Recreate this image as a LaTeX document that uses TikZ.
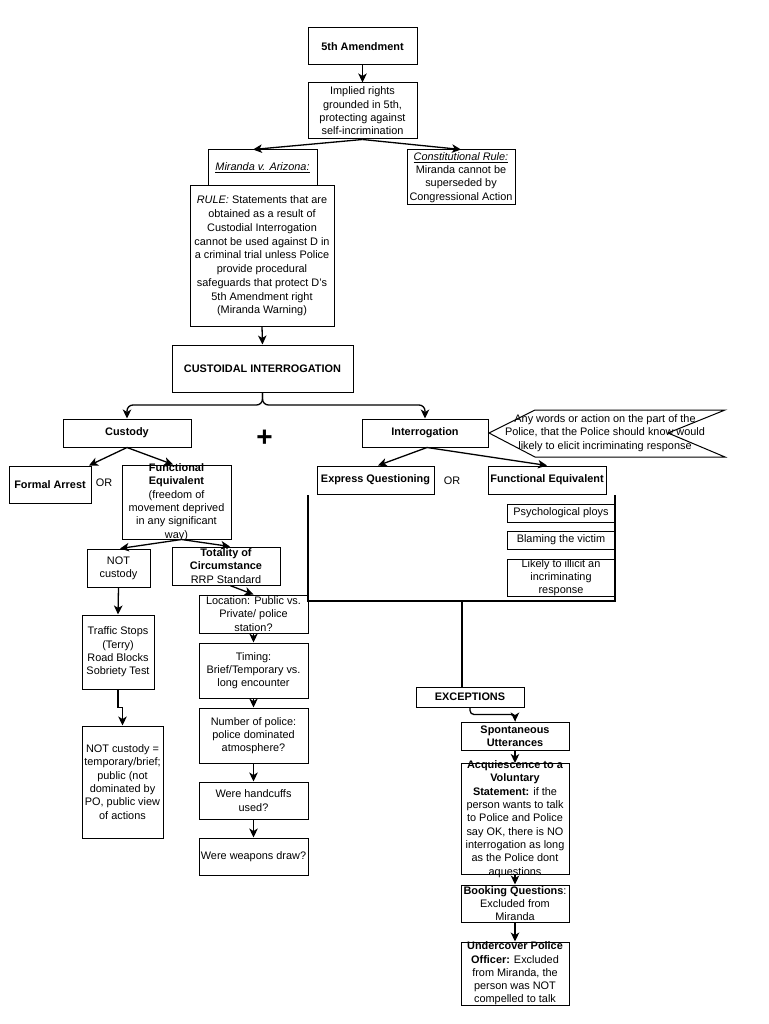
\documentclass[tikz,border=0pt]{standalone}
\usepackage{fontspec}
\setmainfont{Liberation Sans}
\usetikzlibrary{arrows.meta,calc}
\newcommand\myfs{\fontsize{10.9}{13.3}\selectfont}
\begin{document}
\begin{tikzpicture}[x=1pt,y=-1pt,
  bx/.style={draw, line width=1pt, fill=white, inner sep=0pt, minimum width=#1},
  lbl/.style={align=center, inner sep=0pt, font=\myfs},
  plain/.style={inner sep=0pt, font=\myfs},
  arr/.style={-{Stealth[length=9pt,width=8.5pt,inset=2.5pt]}, line width=1.3pt},
  thickln/.style={line width=2pt},
  every label/.style={lbl}]
\path[use as bounding box, fill=white] (0,0) rectangle (768,1024);

% top
\node[bx=109, minimum height=37, label={center:{\textbf{5th Amendment}}}] (amend) at (362.5,46.5) {};
\node[bx=109, minimum height=56, label={center:{Implied rights\\grounded in 5th,\\protecting against\\self-incrimination}}] (implied) at (362.5,111) {};
\node[bx=109, minimum height=36, label={center:{\underline{\textit{Miranda v. Arizona:}}}}] (miranda) at (262.5,168) {};
\node[bx=144, minimum height=140, label={[font=\fontsize{10.9}{13.75}\selectfont]center:{\textit{RULE:} Statements that are\\obtained as a result of\\Custodial Interrogation\\cannot be used against D in\\a criminal trial unless Police\\provide procedural\\safeguards that protect D's\\5th Amendment right\\(Miranda Warning)}}] (rule) at (262,256) {};
\node[bx=108, minimum height=55, label={center:{\underline{\textit{Constitutional Rule:}}\\Miranda cannot be\\superseded by\\Congressional Action}}] (const) at (461,177.5) {};
\node[bx=181, minimum height=47, label={center:{\textbf{CUSTOIDAL INTERROGATION}}}] (ci) at (262.5,368.5) {};

% custody / interrogation
\node[bx=128, minimum height=28, label={center:{\textbf{Custody}}}] (custody) at (127,433) {};
\node[inner sep=0pt, font=\fontsize{28}{28}\selectfont\bfseries] (plus) at (264.5,438) {+};
\node[bx=126, minimum height=28, label={center:{\textbf{Interrogation}}}] (interr) at (425,433) {};
\draw[line width=1pt] (489,433) -- (535,410) -- (725,410) -- (668,433) -- (725,457) -- (535,457) -- cycle;
\node[lbl] (defn) at (605,433) {Any words or action on the part of the\\Police, that the Police should know would\\likely to elicit incriminating response};

% custody side
\node[bx=82, minimum height=37, label={center:{\textbf{Formal Arrest}}}] (formal) at (50,484.5) {};
\node[plain] (or1) at (104,483) {OR};
\node[bx=109, minimum height=74, label={center:{\textbf{Functional}\\\textbf{Equivalent}\\(freedom of\\movement deprived\\in any significant\\way)}}] (fe1) at (176.5,502) {};
\node[bx=63, minimum height=38, label={center:{NOT\\custody}}] (notc) at (118.5,568) {};
\node[bx=108, minimum height=38, label={center:{\textbf{Totality of}\\\textbf{Circumstance}\\RRP Standard}}] (total) at (226,566) {};
\node[bx=109, minimum height=38, label={center:{Location: Public vs.\\Private/ police\\station?}}] (loc) at (253.5,614) {};
\node[bx=109, minimum height=55, label={center:{Timing:\\Brief/Temporary vs.\\long encounter}}] (timing) at (253.5,670.5) {};
\node[bx=109, minimum height=55, label={center:{Number of police:\\police dominated\\atmosphere?}}] (number) at (253.5,735.5) {};
\node[bx=109, minimum height=37, label={center:{Were handcuffs\\used?}}] (hand) at (253.5,800.5) {};
\node[bx=109, minimum height=37, label={center:{Were weapons draw?}}] (weap) at (253.5,856.5) {};
\node[bx=72, minimum height=74, label={center:{Traffic Stops\\(Terry)\\Road Blocks\\Sobriety Test}}] (traffic) at (118,652) {};
\node[bx=81, minimum height=112, label={center:{NOT custody =\\temporary/brief;\\public (not\\dominated by\\PO, public view\\of actions}}] (notc2) at (122.5,782) {};

% interrogation side
\node[bx=117, minimum height=28, label={center:{\textbf{Express Questioning}}}] (express) at (375.5,480) {};
\node[plain] (or2) at (452,481) {OR};
\node[bx=118, minimum height=28, label={center:{\textbf{Functional Equivalent}}}] (fe2) at (547,480) {};
\node[bx=108, minimum height=18, label={center:{Psychological ploys}}] (psy) at (561,513) {};
\node[bx=108, minimum height=18, label={center:{Blaming the victim}}] (blame) at (561,540) {};
\node[bx=108, minimum height=37, label={center:{Likely to illicit an\\incriminating\\response}}] (likely) at (561,577.5) {};

% exceptions
\node[bx=108, minimum height=20, label={center:{\textbf{EXCEPTIONS}}}] (exc) at (470,697) {};
\node[bx=108, minimum height=28, label={center:{\textbf{Spontaneous}\\\textbf{Utterances}}}] (spont) at (515,736) {};
\node[bx=108, minimum height=111, label={center:{\textbf{Acquiescence to a}\\\textbf{Voluntary}\\\textbf{Statement:} if the\\person wants to talk\\to Police and Police\\say OK, there is NO\\interrogation as long\\as the Police dont\\aquestions}}] (acq) at (515,819) {};
\node[bx=108, minimum height=37, label={center:{\textbf{Booking Questions}:\\Excluded from\\Miranda}}] (book) at (515,903.5) {};
\node[bx=108, minimum height=63, label={center:{\textbf{Undercover Police}\\\textbf{Officer:} Excluded\\from Miranda, the\\person was NOT\\compelled to talk}}] (under) at (515,973.5) {};

% bracket lines
\coordinate (bl) at (308,495);
\coordinate (br) at (615,495);
\coordinate (bm) at (462,601);
\draw[thickln] (bl) |- (br |- bm) -- (br);
\draw[thickln] (bm) -- (bm |- exc.north);

% connectors
\draw[arr] (amend.south) -- (implied.north);
\draw[arr] (implied.south) -- ([xshift=-9.5]miranda.north);
\draw[arr] (implied.south) -- (const.north);
\draw[arr] (rule.south) -- (ci.north);
\coordinate (bry) at (0,405);
\draw[arr, rounded corners=6] (ci.south) |- (custody.north |- bry) -- (custody.north);
\draw[arr, rounded corners=6] (ci.south) |- (interr.north |- bry) -- (interr.north);
\draw[arr] (custody.south) -- ([xshift=39]formal.north);
\draw[arr] (custody.south) -- ([xshift=-3.5]fe1.north);
\draw[arr] ([xshift=5]fe1.south) -- ([xshift=1.5]notc.north);
\draw[arr] ([xshift=5]fe1.south) -- ([xshift=4]total.north);
\draw[arr] ([xshift=4]total.south) -- (loc.north);
\draw[arr] (loc.south) -- (timing.north);
\draw[arr] (timing.south) -- (number.north);
\draw[arr] (number.south) -- (hand.north);
\draw[arr] (hand.south) -- (weap.north);
\draw[arr] (notc.south) -- (traffic.north);
\draw[arr] (traffic.south) -- ++(0,18) -| (notc2.north);
\draw[arr] ([xshift=2]interr.south) -- ([xshift=2.5]express.north);
\draw[arr] ([xshift=2]interr.south) -- (fe2.north);
\draw[arr, rounded corners=4] (exc.south) |- ([yshift=7]spont.north) -- (spont.north);
\draw[arr] (spont.south) -- (acq.north);
\draw[arr] (acq.south) -- (book.north);
\draw[arr] (book.south) -- (under.north);
\end{tikzpicture}
\end{document}
